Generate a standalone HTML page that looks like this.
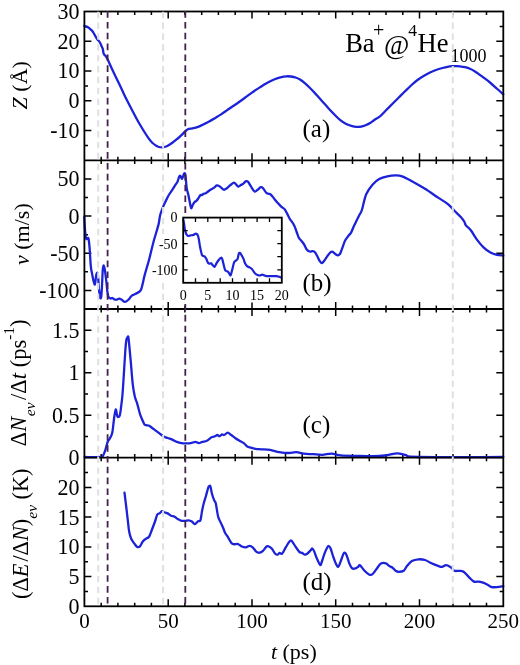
<!DOCTYPE html><html><head><meta charset="utf-8"><title>Ba+@4He1000 dynamics</title><style>html,body{margin:0;padding:0;background:#fff;}svg{display:block;}text{font-family:'Liberation Serif', 'DejaVu Serif', serif;fill:#000;}</style></head><body>
<svg width="520" height="665" viewBox="0 0 520 665">
<rect width="520" height="665" fill="#fff"/>
<path d="M101.2,11.5L101.2,15.1M101.2,160.3L101.2,156.7M117.9,11.5L117.9,15.1M117.9,160.3L117.9,156.7M134.7,11.5L134.7,15.1M134.7,160.3L134.7,156.7M151.4,11.5L151.4,15.1M151.4,160.3L151.4,156.7M168.2,11.5L168.2,18.5M168.2,160.3L168.2,153.3M184.9,11.5L184.9,15.1M184.9,160.3L184.9,156.7M201.7,11.5L201.7,15.1M201.7,160.3L201.7,156.7M218.4,11.5L218.4,15.1M218.4,160.3L218.4,156.7M235.2,11.5L235.2,15.1M235.2,160.3L235.2,156.7M252.0,11.5L252.0,18.5M252.0,160.3L252.0,153.3M268.7,11.5L268.7,15.1M268.7,160.3L268.7,156.7M285.5,11.5L285.5,15.1M285.5,160.3L285.5,156.7M302.2,11.5L302.2,15.1M302.2,160.3L302.2,156.7M319.0,11.5L319.0,15.1M319.0,160.3L319.0,156.7M335.7,11.5L335.7,18.5M335.7,160.3L335.7,153.3M352.5,11.5L352.5,15.1M352.5,160.3L352.5,156.7M369.3,11.5L369.3,15.1M369.3,160.3L369.3,156.7M386.0,11.5L386.0,15.1M386.0,160.3L386.0,156.7M402.8,11.5L402.8,15.1M402.8,160.3L402.8,156.7M419.5,11.5L419.5,18.5M419.5,160.3L419.5,153.3M436.3,11.5L436.3,15.1M436.3,160.3L436.3,156.7M453.0,11.5L453.0,15.1M453.0,160.3L453.0,156.7M469.8,11.5L469.8,15.1M469.8,160.3L469.8,156.7M486.5,11.5L486.5,15.1M486.5,160.3L486.5,156.7M84.4,145.4L88.0,145.4M503.3,145.4L499.7,145.4M84.4,130.5L91.4,130.5M503.3,130.5L496.3,130.5M84.4,115.7L88.0,115.7M503.3,115.7L499.7,115.7M84.4,100.8L91.4,100.8M503.3,100.8L496.3,100.8M84.4,85.9L88.0,85.9M503.3,85.9L499.7,85.9M84.4,71.0L91.4,71.0M503.3,71.0L496.3,71.0M84.4,56.1L88.0,56.1M503.3,56.1L499.7,56.1M84.4,41.3L91.4,41.3M503.3,41.3L496.3,41.3M84.4,26.4L88.0,26.4M503.3,26.4L499.7,26.4M101.2,160.3L101.2,163.9M101.2,309.0L101.2,305.4M117.9,160.3L117.9,163.9M117.9,309.0L117.9,305.4M134.7,160.3L134.7,163.9M134.7,309.0L134.7,305.4M151.4,160.3L151.4,163.9M151.4,309.0L151.4,305.4M168.2,160.3L168.2,167.3M168.2,309.0L168.2,302.0M184.9,160.3L184.9,163.9M184.9,309.0L184.9,305.4M201.7,160.3L201.7,163.9M201.7,309.0L201.7,305.4M218.4,160.3L218.4,163.9M218.4,309.0L218.4,305.4M235.2,160.3L235.2,163.9M235.2,309.0L235.2,305.4M252.0,160.3L252.0,167.3M252.0,309.0L252.0,302.0M268.7,160.3L268.7,163.9M268.7,309.0L268.7,305.4M285.5,160.3L285.5,163.9M285.5,309.0L285.5,305.4M302.2,160.3L302.2,163.9M302.2,309.0L302.2,305.4M319.0,160.3L319.0,163.9M319.0,309.0L319.0,305.4M335.7,160.3L335.7,167.3M335.7,309.0L335.7,302.0M352.5,160.3L352.5,163.9M352.5,309.0L352.5,305.4M369.3,160.3L369.3,163.9M369.3,309.0L369.3,305.4M386.0,160.3L386.0,163.9M386.0,309.0L386.0,305.4M402.8,160.3L402.8,163.9M402.8,309.0L402.8,305.4M419.5,160.3L419.5,167.3M419.5,309.0L419.5,302.0M436.3,160.3L436.3,163.9M436.3,309.0L436.3,305.4M453.0,160.3L453.0,163.9M453.0,309.0L453.0,305.4M469.8,160.3L469.8,163.9M469.8,309.0L469.8,305.4M486.5,160.3L486.5,163.9M486.5,309.0L486.5,305.4M84.4,290.4L91.4,290.4M503.3,290.4L496.3,290.4M84.4,271.8L88.0,271.8M503.3,271.8L499.7,271.8M84.4,253.2L91.4,253.2M503.3,253.2L496.3,253.2M84.4,234.7L88.0,234.7M503.3,234.7L499.7,234.7M84.4,216.1L91.4,216.1M503.3,216.1L496.3,216.1M84.4,197.5L88.0,197.5M503.3,197.5L499.7,197.5M84.4,178.9L91.4,178.9M503.3,178.9L496.3,178.9M101.2,309.0L101.2,312.6M101.2,457.7L101.2,454.1M117.9,309.0L117.9,312.6M117.9,457.7L117.9,454.1M134.7,309.0L134.7,312.6M134.7,457.7L134.7,454.1M151.4,309.0L151.4,312.6M151.4,457.7L151.4,454.1M168.2,309.0L168.2,316.0M168.2,457.7L168.2,450.7M184.9,309.0L184.9,312.6M184.9,457.7L184.9,454.1M201.7,309.0L201.7,312.6M201.7,457.7L201.7,454.1M218.4,309.0L218.4,312.6M218.4,457.7L218.4,454.1M235.2,309.0L235.2,312.6M235.2,457.7L235.2,454.1M252.0,309.0L252.0,316.0M252.0,457.7L252.0,450.7M268.7,309.0L268.7,312.6M268.7,457.7L268.7,454.1M285.5,309.0L285.5,312.6M285.5,457.7L285.5,454.1M302.2,309.0L302.2,312.6M302.2,457.7L302.2,454.1M319.0,309.0L319.0,312.6M319.0,457.7L319.0,454.1M335.7,309.0L335.7,316.0M335.7,457.7L335.7,450.7M352.5,309.0L352.5,312.6M352.5,457.7L352.5,454.1M369.3,309.0L369.3,312.6M369.3,457.7L369.3,454.1M386.0,309.0L386.0,312.6M386.0,457.7L386.0,454.1M402.8,309.0L402.8,312.6M402.8,457.7L402.8,454.1M419.5,309.0L419.5,316.0M419.5,457.7L419.5,450.7M436.3,309.0L436.3,312.6M436.3,457.7L436.3,454.1M453.0,309.0L453.0,312.6M453.0,457.7L453.0,454.1M469.8,309.0L469.8,312.6M469.8,457.7L469.8,454.1M486.5,309.0L486.5,312.6M486.5,457.7L486.5,454.1M84.4,436.5L88.0,436.5M503.3,436.5L499.7,436.5M84.4,415.2L91.4,415.2M503.3,415.2L496.3,415.2M84.4,394.0L88.0,394.0M503.3,394.0L499.7,394.0M84.4,372.7L91.4,372.7M503.3,372.7L496.3,372.7M84.4,351.5L88.0,351.5M503.3,351.5L499.7,351.5M84.4,330.2L91.4,330.2M503.3,330.2L496.3,330.2M101.2,457.7L101.2,461.3M101.2,606.3L101.2,602.7M117.9,457.7L117.9,461.3M117.9,606.3L117.9,602.7M134.7,457.7L134.7,461.3M134.7,606.3L134.7,602.7M151.4,457.7L151.4,461.3M151.4,606.3L151.4,602.7M168.2,457.7L168.2,464.7M168.2,606.3L168.2,599.3M184.9,457.7L184.9,461.3M184.9,606.3L184.9,602.7M201.7,457.7L201.7,461.3M201.7,606.3L201.7,602.7M218.4,457.7L218.4,461.3M218.4,606.3L218.4,602.7M235.2,457.7L235.2,461.3M235.2,606.3L235.2,602.7M252.0,457.7L252.0,464.7M252.0,606.3L252.0,599.3M268.7,457.7L268.7,461.3M268.7,606.3L268.7,602.7M285.5,457.7L285.5,461.3M285.5,606.3L285.5,602.7M302.2,457.7L302.2,461.3M302.2,606.3L302.2,602.7M319.0,457.7L319.0,461.3M319.0,606.3L319.0,602.7M335.7,457.7L335.7,464.7M335.7,606.3L335.7,599.3M352.5,457.7L352.5,461.3M352.5,606.3L352.5,602.7M369.3,457.7L369.3,461.3M369.3,606.3L369.3,602.7M386.0,457.7L386.0,461.3M386.0,606.3L386.0,602.7M402.8,457.7L402.8,461.3M402.8,606.3L402.8,602.7M419.5,457.7L419.5,464.7M419.5,606.3L419.5,599.3M436.3,457.7L436.3,461.3M436.3,606.3L436.3,602.7M453.0,457.7L453.0,461.3M453.0,606.3L453.0,602.7M469.8,457.7L469.8,461.3M469.8,606.3L469.8,602.7M486.5,457.7L486.5,461.3M486.5,606.3L486.5,602.7M84.4,591.4L88.0,591.4M503.3,591.4L499.7,591.4M84.4,576.6L91.4,576.6M503.3,576.6L496.3,576.6M84.4,561.7L88.0,561.7M503.3,561.7L499.7,561.7M84.4,546.9L91.4,546.9M503.3,546.9L496.3,546.9M84.4,532.0L88.0,532.0M503.3,532.0L499.7,532.0M84.4,517.1L91.4,517.1M503.3,517.1L496.3,517.1M84.4,502.3L88.0,502.3M503.3,502.3L499.7,502.3M84.4,487.4L91.4,487.4M503.3,487.4L496.3,487.4M84.4,472.6L88.0,472.6M503.3,472.6L499.7,472.6" stroke="#000" stroke-width="1.5" fill="none"/>
<path d="M84.40,26.00 C84.67,26.10 85.40,26.38 86.00,26.60 C86.60,26.82 87.33,26.93 88.00,27.30 C88.67,27.67 89.35,28.25 90.00,28.80 C90.65,29.35 91.30,29.90 91.90,30.60 C92.50,31.30 93.05,32.12 93.60,33.00 C94.15,33.88 94.60,34.87 95.20,35.90 C95.80,36.93 96.63,38.42 97.20,39.20 C97.77,39.98 98.13,40.00 98.60,40.60 C99.07,41.20 99.57,42.03 100.00,42.80 C100.43,43.57 100.77,44.27 101.20,45.20 C101.63,46.13 102.28,47.52 102.60,48.40 C102.92,49.28 102.95,49.70 103.10,50.50 C103.25,51.30 103.27,52.45 103.50,53.20 C103.73,53.95 104.08,54.47 104.50,55.00 C104.92,55.53 105.47,55.63 106.00,56.40 C106.53,57.17 106.70,57.50 107.70,59.60 C108.70,61.70 110.47,65.73 112.00,69.00 C113.53,72.27 115.32,75.90 116.90,79.20 C118.48,82.50 119.95,85.53 121.50,88.80 C123.05,92.07 124.45,95.27 126.20,98.80 C127.95,102.33 130.08,106.33 132.00,110.00 C133.92,113.67 135.78,117.38 137.70,120.80 C139.62,124.22 141.58,127.43 143.50,130.50 C145.42,133.57 147.70,137.12 149.20,139.20 C150.70,141.28 151.33,141.92 152.50,143.00 C153.67,144.08 155.12,145.03 156.20,145.70 C157.28,146.37 158.05,146.73 159.00,147.00 C159.95,147.27 160.98,147.30 161.90,147.30 C162.82,147.30 163.53,147.27 164.50,147.00 C165.47,146.73 166.45,146.37 167.70,145.70 C168.95,145.03 170.47,144.08 172.00,143.00 C173.53,141.92 175.63,140.22 176.90,139.20 C178.17,138.18 178.67,137.75 179.60,136.90 C180.53,136.05 181.63,134.97 182.50,134.10 C183.37,133.23 184.13,132.35 184.80,131.70 C185.47,131.05 185.83,130.68 186.50,130.20 C187.17,129.72 187.83,129.12 188.80,128.80 C189.77,128.48 190.75,128.63 192.30,128.30 C193.85,127.97 196.18,127.48 198.10,126.80 C200.02,126.12 201.88,125.12 203.80,124.20 C205.72,123.28 207.67,122.35 209.60,121.30 C211.53,120.25 213.48,119.05 215.40,117.90 C217.32,116.75 219.18,115.65 221.10,114.40 C223.02,113.15 224.97,111.75 226.90,110.40 C228.83,109.05 230.85,107.58 232.70,106.30 C234.55,105.02 235.97,104.12 238.00,102.70 C240.03,101.28 242.57,99.48 244.90,97.80 C247.23,96.12 249.52,94.33 252.00,92.60 C254.48,90.87 257.30,89.00 259.80,87.40 C262.30,85.80 264.52,84.35 267.00,83.00 C269.48,81.65 272.45,80.25 274.70,79.30 C276.95,78.35 278.52,77.80 280.50,77.30 C282.48,76.80 284.85,76.43 286.60,76.30 C288.35,76.17 289.50,76.30 291.00,76.50 C292.50,76.70 294.10,76.98 295.60,77.50 C297.10,78.02 298.52,78.70 300.00,79.60 C301.48,80.50 302.75,81.42 304.50,82.90 C306.25,84.38 308.52,86.52 310.50,88.50 C312.48,90.48 314.42,92.63 316.40,94.80 C318.38,96.97 320.40,99.27 322.40,101.50 C324.40,103.73 326.40,106.03 328.40,108.20 C330.40,110.37 332.42,112.52 334.40,114.50 C336.38,116.48 338.33,118.52 340.30,120.10 C342.27,121.68 344.22,123.00 346.20,124.00 C348.18,125.00 350.47,125.63 352.20,126.10 C353.93,126.57 355.12,126.70 356.60,126.80 C358.08,126.90 359.60,126.95 361.10,126.70 C362.60,126.45 364.10,125.90 365.60,125.30 C367.10,124.70 368.60,124.03 370.10,123.10 C371.60,122.17 372.95,120.83 374.60,119.70 C376.25,118.57 378.10,117.87 380.00,116.30 C381.90,114.73 383.92,112.38 386.00,110.30 C388.08,108.22 390.37,105.93 392.50,103.80 C394.63,101.67 396.72,99.58 398.80,97.50 C400.88,95.42 402.97,93.30 405.00,91.30 C407.03,89.30 408.92,87.38 411.00,85.50 C413.08,83.62 415.33,81.62 417.50,80.00 C419.67,78.38 421.92,77.05 424.00,75.80 C426.08,74.55 428.00,73.47 430.00,72.50 C432.00,71.53 433.92,70.75 436.00,70.00 C438.08,69.25 440.58,68.53 442.50,68.00 C444.42,67.47 445.83,67.10 447.50,66.80 C449.17,66.50 451.08,66.32 452.50,66.20 C453.92,66.08 454.75,66.08 456.00,66.10 C457.25,66.12 458.50,66.12 460.00,66.30 C461.50,66.48 463.33,66.78 465.00,67.20 C466.67,67.62 468.33,68.08 470.00,68.80 C471.67,69.52 473.33,70.47 475.00,71.50 C476.67,72.53 478.33,73.82 480.00,75.00 C481.67,76.18 483.33,77.35 485.00,78.60 C486.67,79.85 488.17,80.97 490.00,82.50 C491.83,84.03 493.78,85.83 496.00,87.80 C498.22,89.77 502.08,93.22 503.30,94.30" fill="none" stroke="#1c22d8" stroke-width="2.3" stroke-linejoin="round" stroke-linecap="round"/>
<path d="M84.30,216.60 C84.38,218.17 84.63,223.25 84.80,226.00 C84.97,228.75 85.05,230.95 85.30,233.10 C85.55,235.25 85.93,238.07 86.30,238.90 C86.67,239.73 87.12,238.10 87.50,238.10 C87.88,238.10 88.25,237.25 88.60,238.90 C88.95,240.55 89.23,243.45 89.60,248.00 C89.97,252.55 90.42,262.07 90.80,266.20 C91.18,270.33 91.50,270.58 91.90,272.80 C92.30,275.02 92.75,277.57 93.20,279.50 C93.65,281.43 94.27,283.85 94.60,284.40 C94.93,284.95 94.93,284.32 95.20,282.80 C95.47,281.28 95.83,276.97 96.20,275.30 C96.57,273.63 97.07,272.38 97.40,272.80 C97.73,273.22 97.93,275.03 98.20,277.80 C98.47,280.57 98.67,286.08 99.00,289.40 C99.33,292.72 99.83,296.45 100.20,297.70 C100.57,298.95 100.92,298.57 101.20,296.90 C101.48,295.23 101.63,292.27 101.90,287.70 C102.17,283.13 102.50,273.22 102.80,269.50 C103.10,265.78 103.37,265.40 103.70,265.40 C104.03,265.40 104.47,267.70 104.80,269.50 C105.13,271.30 105.42,273.98 105.70,276.20 C105.98,278.42 106.23,280.32 106.50,282.80 C106.77,285.28 106.97,288.75 107.30,291.10 C107.63,293.45 107.95,295.67 108.50,296.90 C109.05,298.13 109.97,298.32 110.60,298.50 C111.23,298.68 111.65,297.83 112.30,298.00 C112.95,298.17 113.73,299.23 114.50,299.50 C115.27,299.77 116.15,299.75 116.90,299.60 C117.65,299.45 118.23,298.60 119.00,298.60 C119.77,298.60 120.50,299.05 121.50,299.60 C122.50,300.15 123.83,301.90 125.00,301.90 C126.17,301.90 127.50,300.50 128.50,299.60 C129.50,298.70 130.23,297.27 131.00,296.50 C131.77,295.73 131.98,295.63 133.10,295.00 C134.22,294.37 136.35,293.67 137.70,292.70 C139.05,291.73 140.05,292.08 141.20,289.20 C142.35,286.32 143.27,280.40 144.60,275.40 C145.93,270.40 147.67,264.97 149.20,259.20 C150.73,253.43 152.25,246.57 153.80,240.80 C155.35,235.03 157.43,228.90 158.50,224.60 C159.57,220.30 159.33,218.20 160.20,215.00 C161.07,211.80 162.65,207.97 163.70,205.40 C164.75,202.83 165.65,201.33 166.50,199.60 C167.35,197.87 167.83,196.63 168.80,195.00 C169.77,193.37 171.23,191.43 172.30,189.80 C173.37,188.17 174.33,186.55 175.20,185.20 C176.07,183.85 176.83,183.15 177.50,181.70 C178.17,180.25 178.72,177.45 179.20,176.50 C179.68,175.55 179.92,175.62 180.40,176.00 C180.88,176.38 181.53,179.10 182.10,178.80 C182.67,178.50 183.35,175.12 183.80,174.20 C184.25,173.28 184.50,172.92 184.80,173.30 C185.10,173.68 185.28,174.03 185.60,176.50 C185.92,178.97 186.23,185.02 186.70,188.10 C187.17,191.18 187.82,192.32 188.40,195.00 C188.98,197.68 189.72,201.98 190.20,204.20 C190.68,206.42 190.82,208.30 191.30,208.30 C191.78,208.30 192.52,205.27 193.10,204.20 C193.68,203.13 194.23,202.47 194.80,201.90 C195.37,201.33 195.92,201.38 196.50,200.80 C197.08,200.22 197.62,199.37 198.30,198.40 C198.98,197.43 199.93,195.57 200.60,195.00 C201.27,194.43 201.83,195.20 202.30,195.00 C202.77,194.80 202.82,194.08 203.40,193.80 C203.98,193.52 205.02,193.68 205.80,193.30 C206.58,192.92 207.33,192.08 208.10,191.50 C208.87,190.92 209.63,190.28 210.40,189.80 C211.17,189.32 211.93,189.08 212.70,188.60 C213.47,188.12 214.30,187.43 215.00,186.90 C215.70,186.37 216.07,185.45 216.90,185.40 C217.73,185.35 218.85,185.88 220.00,186.60 C221.15,187.32 222.65,189.43 223.80,189.70 C224.95,189.97 225.87,188.92 226.90,188.20 C227.93,187.48 228.85,186.33 230.00,185.40 C231.15,184.47 232.77,182.73 233.80,182.60 C234.83,182.47 235.42,183.93 236.20,184.60 C236.98,185.27 237.73,186.52 238.50,186.60 C239.27,186.68 240.03,185.57 240.80,185.10 C241.57,184.63 242.20,184.47 243.10,183.80 C244.00,183.13 245.35,181.40 246.20,181.10 C247.05,180.80 247.43,181.15 248.20,182.00 C248.97,182.85 249.73,184.62 250.80,186.20 C251.87,187.78 253.45,190.92 254.60,191.50 C255.75,192.08 256.67,190.42 257.70,189.70 C258.73,188.98 259.90,187.45 260.80,187.20 C261.70,186.95 262.20,187.27 263.10,188.20 C264.00,189.13 265.30,191.87 266.20,192.80 C267.10,193.73 267.73,193.50 268.50,193.80 C269.27,194.10 269.78,193.70 270.80,194.60 C271.82,195.50 273.32,197.67 274.60,199.20 C275.88,200.73 277.35,202.52 278.50,203.80 C279.65,205.08 280.48,206.00 281.50,206.90 C282.52,207.80 283.70,208.17 284.60,209.20 C285.50,210.23 286.00,211.43 286.90,213.10 C287.80,214.77 289.28,217.92 290.00,219.20 C290.72,220.48 290.50,219.77 291.20,220.80 C291.90,221.83 293.32,223.62 294.20,225.40 C295.08,227.18 295.73,229.45 296.50,231.50 C297.27,233.55 297.90,236.03 298.80,237.70 C299.70,239.37 301.00,240.35 301.90,241.50 C302.80,242.65 303.43,243.32 304.20,244.60 C304.97,245.88 305.60,248.05 306.50,249.20 C307.40,250.35 308.57,251.17 309.60,251.50 C310.63,251.83 311.80,251.07 312.70,251.20 C313.60,251.33 314.23,251.47 315.00,252.30 C315.77,253.13 316.53,254.78 317.30,256.20 C318.07,257.62 318.83,259.65 319.60,260.80 C320.37,261.95 321.13,263.10 321.90,263.10 C322.67,263.10 323.30,261.95 324.20,260.80 C325.10,259.65 326.27,257.62 327.30,256.20 C328.33,254.78 329.50,253.03 330.40,252.30 C331.30,251.57 331.93,251.55 332.70,251.80 C333.47,252.05 334.10,253.20 335.00,253.80 C335.90,254.40 337.20,255.52 338.10,255.40 C339.00,255.28 339.63,254.52 340.40,253.10 C341.17,251.68 341.93,248.95 342.70,246.90 C343.47,244.85 344.10,242.58 345.00,240.80 C345.90,239.02 347.07,237.62 348.10,236.20 C349.13,234.78 350.30,233.85 351.20,232.30 C352.10,230.75 352.62,228.82 353.50,226.90 C354.38,224.98 355.48,222.85 356.50,220.80 C357.52,218.75 358.70,216.40 359.60,214.60 C360.50,212.80 360.80,213.38 361.90,210.00 C363.00,206.62 364.40,198.55 366.20,194.30 C368.00,190.05 370.53,187.05 372.70,184.50 C374.87,181.95 376.75,180.37 379.20,179.00 C381.65,177.63 384.67,176.90 387.40,176.30 C390.13,175.70 393.15,175.40 395.60,175.40 C398.05,175.40 399.38,175.33 402.10,176.30 C404.82,177.27 408.08,179.12 411.90,181.20 C415.72,183.28 420.63,186.07 425.00,188.80 C429.37,191.53 434.28,195.05 438.10,197.60 C441.92,200.15 445.18,201.92 447.90,204.10 C450.62,206.28 452.22,208.52 454.40,210.70 C456.58,212.88 459.37,215.40 461.00,217.20 C462.63,219.00 463.38,220.13 464.20,221.50 C465.02,222.87 464.80,223.93 465.90,225.40 C467.00,226.87 468.90,227.85 470.80,230.30 C472.70,232.75 475.13,237.22 477.30,240.10 C479.47,242.98 481.62,245.53 483.80,247.60 C485.98,249.67 488.22,251.30 490.40,252.50 C492.58,253.70 494.75,254.30 496.90,254.80 C499.05,255.30 502.23,255.38 503.30,255.50" fill="none" stroke="#1c22d8" stroke-width="2.3" stroke-linejoin="round" stroke-linecap="round"/>
<path d="M84.60,457.00 C87.30,457.00 97.72,457.25 100.80,457.00 C103.88,456.75 102.33,456.70 103.10,455.50 C103.87,454.30 104.63,452.10 105.40,449.80 C106.17,447.50 106.93,443.63 107.70,441.70 C108.47,439.77 109.23,439.73 110.00,438.20 C110.77,436.67 111.60,435.95 112.30,432.50 C113.00,429.05 113.62,421.35 114.20,417.50 C114.78,413.65 115.27,409.60 115.80,409.40 C116.33,409.20 116.75,415.27 117.40,416.30 C118.05,417.33 119.07,417.32 119.70,415.60 C120.33,413.88 120.73,409.52 121.20,406.00 C121.67,402.48 122.07,399.68 122.50,394.50 C122.93,389.32 123.32,382.40 123.80,374.90 C124.28,367.40 124.97,355.35 125.40,349.50 C125.83,343.65 126.07,341.78 126.40,339.80 C126.73,337.82 127.08,338.10 127.40,337.60 C127.72,337.10 127.98,335.47 128.30,336.80 C128.62,338.13 128.87,341.20 129.30,345.60 C129.73,350.00 130.32,356.68 130.90,363.20 C131.48,369.72 132.15,379.17 132.80,384.70 C133.45,390.23 134.07,393.25 134.80,396.40 C135.53,399.55 136.33,400.67 137.20,403.60 C138.07,406.53 139.28,411.60 140.00,414.00 C140.72,416.40 140.92,416.58 141.50,418.00 C142.08,419.42 142.98,421.40 143.50,422.50 C144.02,423.60 144.03,424.13 144.60,424.60 C145.17,425.07 146.13,425.10 146.90,425.30 C147.67,425.50 148.05,425.15 149.20,425.80 C150.35,426.45 152.25,428.05 153.80,429.20 C155.35,430.35 156.95,431.53 158.50,432.70 C160.05,433.87 161.57,435.32 163.10,436.20 C164.63,437.08 166.17,437.43 167.70,438.00 C169.23,438.57 170.77,438.95 172.30,439.60 C173.83,440.25 175.37,441.32 176.90,441.90 C178.43,442.48 179.95,442.87 181.50,443.10 C183.05,443.33 184.65,443.30 186.20,443.30 C187.75,443.30 189.27,443.33 190.80,443.10 C192.33,442.87 194.07,441.90 195.40,441.90 C196.73,441.90 197.65,443.10 198.80,443.10 C199.95,443.10 200.95,442.28 202.30,441.90 C203.65,441.52 205.37,441.57 206.90,440.80 C208.43,440.03 210.15,438.07 211.50,437.30 C212.85,436.53 214.03,436.58 215.00,436.20 C215.97,435.82 216.53,435.00 217.30,435.00 C218.07,435.00 218.82,436.32 219.60,436.20 C220.38,436.08 221.23,434.50 222.00,434.30 C222.77,434.10 223.25,435.27 224.20,435.00 C225.15,434.73 226.53,432.70 227.70,432.70 C228.87,432.70 229.85,434.03 231.20,435.00 C232.55,435.97 234.27,437.47 235.80,438.50 C237.33,439.53 239.07,440.43 240.40,441.20 C241.73,441.97 242.65,442.22 243.80,443.10 C244.95,443.98 246.13,445.73 247.30,446.50 C248.47,447.27 249.45,447.32 250.80,447.70 C252.15,448.08 253.73,448.53 255.40,448.80 C257.07,449.07 258.37,449.12 260.80,449.30 C263.23,449.48 266.93,449.43 270.00,449.90 C273.07,450.37 276.12,451.58 279.20,452.10 C282.28,452.62 285.67,453.00 288.50,453.00 C291.33,453.00 293.65,452.00 296.20,452.10 C298.75,452.20 300.98,453.25 303.80,453.60 C306.62,453.95 310.02,454.00 313.10,454.20 C316.18,454.40 319.23,454.90 322.30,454.80 C325.37,454.70 328.42,453.50 331.50,453.60 C334.58,453.70 336.72,455.02 340.80,455.40 C344.88,455.78 350.68,455.77 356.00,455.90 C361.32,456.03 367.87,456.27 372.70,456.20 C377.53,456.13 380.92,455.98 385.00,455.50 C389.08,455.02 393.80,453.40 397.20,453.30 C400.60,453.20 401.85,454.28 405.40,454.90 C408.95,455.52 402.18,456.65 418.50,457.00 C434.82,457.35 489.17,457.00 503.30,457.00" fill="none" stroke="#1c22d8" stroke-width="2.3" stroke-linejoin="round" stroke-linecap="round"/>
<path d="M124.50,492.60 C124.78,494.92 125.65,501.88 126.20,506.50 C126.75,511.12 127.30,516.08 127.80,520.30 C128.30,524.52 128.63,528.72 129.20,531.80 C129.77,534.88 130.37,536.87 131.20,538.80 C132.03,540.73 133.20,542.05 134.20,543.40 C135.20,544.75 136.23,546.40 137.20,546.90 C138.17,547.40 139.07,547.30 140.00,546.40 C140.93,545.50 141.83,542.77 142.80,541.50 C143.77,540.23 144.73,539.63 145.80,538.80 C146.87,537.97 148.17,538.05 149.20,536.50 C150.23,534.95 151.03,532.00 152.00,529.50 C152.97,527.00 154.12,524.00 155.00,521.50 C155.88,519.00 156.53,515.85 157.30,514.50 C158.07,513.15 158.83,513.97 159.60,513.40 C160.37,512.83 161.13,511.30 161.90,511.10 C162.67,510.90 163.23,511.82 164.20,512.20 C165.17,512.58 166.53,512.82 167.70,513.40 C168.87,513.98 170.05,515.13 171.20,515.70 C172.35,516.27 173.45,516.22 174.60,516.80 C175.75,517.38 176.95,518.53 178.10,519.20 C179.25,519.87 180.35,520.53 181.50,520.80 C182.65,521.07 183.83,520.88 185.00,520.80 C186.17,520.72 187.35,520.18 188.50,520.30 C189.65,520.42 190.87,520.85 191.90,521.50 C192.93,522.15 193.93,523.98 194.70,524.20 C195.47,524.42 195.93,523.30 196.50,522.80 C197.07,522.30 197.45,521.60 198.10,521.20 C198.75,520.80 199.77,521.95 200.40,520.40 C201.03,518.85 201.38,514.60 201.90,511.90 C202.42,509.20 202.85,506.77 203.50,504.20 C204.15,501.63 205.03,499.18 205.80,496.50 C206.57,493.82 207.53,489.82 208.10,488.10 C208.67,486.38 208.82,486.50 209.20,486.20 C209.58,485.90 209.95,485.08 210.40,486.30 C210.85,487.52 211.27,491.15 211.90,493.50 C212.53,495.85 213.55,498.73 214.20,500.40 C214.85,502.07 215.15,500.82 215.80,503.50 C216.45,506.18 217.33,513.43 218.10,516.50 C218.87,519.57 219.50,519.85 220.40,521.90 C221.30,523.95 222.73,527.00 223.50,528.80 C224.27,530.60 224.23,531.28 225.00,532.70 C225.77,534.12 227.07,535.63 228.10,537.30 C229.13,538.97 230.30,541.55 231.20,542.70 C232.10,543.85 232.48,544.00 233.50,544.20 C234.52,544.40 236.28,543.77 237.30,543.90 C238.32,544.03 238.83,544.57 239.60,545.00 C240.37,545.43 240.87,546.12 241.90,546.50 C242.93,546.88 244.52,547.42 245.80,547.30 C247.08,547.18 248.45,545.80 249.60,545.80 C250.75,545.80 251.55,546.28 252.70,547.30 C253.85,548.32 255.35,551.00 256.50,551.90 C257.65,552.80 258.57,552.82 259.60,552.70 C260.63,552.58 261.55,552.23 262.70,551.20 C263.85,550.17 265.48,547.28 266.50,546.50 C267.52,545.72 267.90,546.12 268.80,546.50 C269.70,546.88 270.83,547.60 271.90,548.80 C272.97,550.00 274.22,552.73 275.20,553.70 C276.18,554.67 277.08,554.73 277.80,554.60 C278.52,554.47 278.78,553.05 279.50,552.90 C280.22,552.75 281.08,554.57 282.10,553.70 C283.12,552.83 284.58,549.42 285.60,547.70 C286.62,545.98 287.33,544.62 288.20,543.40 C289.07,542.18 289.93,540.40 290.80,540.40 C291.67,540.40 292.40,542.05 293.40,543.40 C294.40,544.75 295.80,547.07 296.80,548.50 C297.80,549.93 298.53,551.27 299.40,552.00 C300.27,552.73 301.13,552.47 302.00,552.90 C302.87,553.33 303.73,554.47 304.60,554.60 C305.47,554.73 306.18,554.42 307.20,553.70 C308.22,552.98 309.83,551.17 310.70,550.30 C311.57,549.43 311.83,548.37 312.40,548.50 C312.97,548.63 313.38,549.50 314.10,551.10 C314.82,552.70 315.68,555.78 316.70,558.10 C317.72,560.42 319.33,564.43 320.20,565.00 C321.07,565.57 321.18,563.38 321.90,561.50 C322.62,559.62 323.63,556.00 324.50,553.70 C325.37,551.40 326.38,548.98 327.10,547.70 C327.82,546.42 328.22,545.87 328.80,546.00 C329.38,546.13 329.88,546.78 330.60,548.50 C331.32,550.22 332.25,553.83 333.10,556.30 C333.95,558.77 334.83,561.57 335.70,563.30 C336.57,565.03 337.43,567.13 338.30,566.70 C339.17,566.27 340.03,562.87 340.90,560.70 C341.77,558.53 342.77,555.00 343.50,553.70 C344.23,552.40 344.72,552.47 345.30,552.90 C345.88,553.33 346.28,554.43 347.00,556.30 C347.72,558.17 348.73,562.08 349.60,564.10 C350.47,566.12 351.20,567.68 352.20,568.40 C353.20,569.12 354.60,568.68 355.60,568.40 C356.60,568.12 357.47,567.22 358.20,566.70 C358.93,566.18 358.95,564.62 360.00,565.30 C361.05,565.98 362.93,569.23 364.50,570.80 C366.07,572.37 368.03,574.17 369.40,574.70 C370.77,575.23 371.33,575.20 372.70,574.00 C374.07,572.80 376.23,569.23 377.60,567.50 C378.97,565.77 379.53,564.30 380.90,563.60 C382.27,562.90 384.45,562.92 385.80,563.30 C387.15,563.68 387.92,565.20 389.00,565.90 C390.08,566.60 391.20,566.68 392.30,567.50 C393.40,568.32 394.52,570.08 395.60,570.80 C396.68,571.52 397.45,571.80 398.80,571.80 C400.15,571.80 402.33,571.78 403.70,570.80 C405.07,569.82 405.63,567.53 407.00,565.90 C408.37,564.27 409.98,562.10 411.90,561.00 C413.82,559.90 416.32,559.47 418.50,559.30 C420.68,559.13 422.83,559.33 425.00,560.00 C427.17,560.67 429.32,562.32 431.50,563.30 C433.68,564.28 436.35,565.30 438.10,565.90 C439.85,566.50 440.65,567.02 442.00,566.90 C443.35,566.78 444.68,565.10 446.20,565.20 C447.72,565.30 449.73,566.57 451.10,567.50 C452.47,568.43 453.03,570.25 454.40,570.80 C455.77,571.35 457.77,570.63 459.30,570.80 C460.83,570.97 461.97,570.72 463.60,571.80 C465.23,572.88 467.37,575.67 469.10,577.30 C470.83,578.93 472.37,580.88 474.00,581.60 C475.63,582.32 477.27,581.38 478.90,581.60 C480.53,581.82 482.17,582.25 483.80,582.90 C485.43,583.55 487.33,584.80 488.70,585.50 C490.07,586.20 490.63,586.83 492.00,587.10 C493.37,587.37 495.02,587.27 496.90,587.10 C498.78,586.93 502.23,586.27 503.30,586.10" fill="none" stroke="#1c22d8" stroke-width="2.3" stroke-linejoin="round" stroke-linecap="round"/>
<rect x="84.4" y="11.5" width="418.9" height="594.8" fill="none" stroke="#000" stroke-width="1.8"/>
<line x1="84.4" y1="160.3" x2="503.3" y2="160.3" stroke="#000" stroke-width="1.8"/>
<line x1="84.4" y1="309.0" x2="503.3" y2="309.0" stroke="#000" stroke-width="1.8"/>
<line x1="84.4" y1="457.7" x2="503.3" y2="457.7" stroke="#000" stroke-width="1.8"/>
<line x1="98.2" y1="11.75" x2="98.2" y2="606.3" stroke="#e0e0e0" stroke-width="2" stroke-dasharray="6.4 4.45"/>
<line x1="163.1" y1="11.75" x2="163.1" y2="606.3" stroke="#e0e0e0" stroke-width="2" stroke-dasharray="6.4 4.45"/>
<line x1="452.8" y1="11.75" x2="452.8" y2="606.3" stroke="#e0e0e0" stroke-width="2" stroke-dasharray="6.4 4.45"/>
<line x1="107.6" y1="11.05" x2="107.6" y2="606.3" stroke="#44204e" stroke-width="1.8" stroke-dasharray="6.6 4.25"/>
<line x1="185.3" y1="11.05" x2="185.3" y2="606.3" stroke="#44204e" stroke-width="1.8" stroke-dasharray="6.6 4.25"/>
<path d="M157,234 L170,234 L170,213.5 L284,213.5 L284,302.4 L170,302.4 L170,281 L157,281 Z" fill="#fff"/>
<path d="M183.30,219.60 C183.43,220.28 183.83,222.03 184.10,223.70 C184.37,225.37 184.52,227.83 184.90,229.60 C185.28,231.37 185.85,233.23 186.40,234.30 C186.95,235.37 187.52,235.82 188.20,236.00 C188.88,236.18 189.62,235.58 190.50,235.40 C191.38,235.22 192.62,235.18 193.50,234.90 C194.38,234.62 195.12,233.70 195.80,233.70 C196.48,233.70 197.10,234.02 197.60,234.90 C198.10,235.78 198.42,237.15 198.80,239.00 C199.18,240.85 199.52,243.87 199.90,246.00 C200.28,248.13 200.70,250.20 201.10,251.80 C201.50,253.40 201.72,254.85 202.30,255.60 C202.88,256.35 203.92,255.75 204.60,256.30 C205.28,256.85 205.82,257.78 206.40,258.90 C206.98,260.02 207.52,262.22 208.10,263.00 C208.68,263.78 209.40,263.55 209.90,263.60 C210.40,263.65 210.62,263.02 211.10,263.30 C211.58,263.58 212.22,264.72 212.80,265.30 C213.38,265.88 214.02,267.08 214.60,266.80 C215.18,266.52 215.62,264.73 216.30,263.60 C216.98,262.47 217.92,260.98 218.70,260.00 C219.48,259.02 220.42,257.88 221.00,257.70 C221.58,257.52 221.80,257.92 222.20,258.90 C222.60,259.88 222.92,261.75 223.40,263.60 C223.88,265.45 224.52,268.73 225.10,270.00 C225.68,271.27 226.32,270.80 226.90,271.20 C227.48,271.60 227.98,271.72 228.60,272.40 C229.22,273.08 229.98,275.80 230.60,275.30 C231.22,274.80 231.72,271.55 232.30,269.40 C232.88,267.25 233.50,263.87 234.10,262.40 C234.70,260.93 235.32,261.18 235.90,260.60 C236.48,260.02 237.12,260.07 237.60,258.90 C238.08,257.73 238.40,254.58 238.80,253.60 C239.20,252.62 239.52,252.70 240.00,253.00 C240.48,253.30 241.12,254.42 241.70,255.40 C242.28,256.38 242.92,257.53 243.50,258.90 C244.08,260.27 244.62,262.40 245.20,263.60 C245.78,264.80 246.32,265.48 247.00,266.10 C247.68,266.72 248.52,266.85 249.30,267.30 C250.08,267.75 251.02,268.15 251.70,268.80 C252.38,269.45 252.82,270.42 253.40,271.20 C253.98,271.98 254.52,272.87 255.20,273.50 C255.88,274.13 256.72,274.67 257.50,275.00 C258.28,275.33 259.12,275.55 259.90,275.50 C260.68,275.45 261.52,274.73 262.20,274.70 C262.88,274.67 263.32,275.07 264.00,275.30 C264.68,275.53 265.33,275.95 266.30,276.10 C267.27,276.25 268.62,276.20 269.80,276.20 C270.98,276.20 272.32,276.12 273.40,276.10 C274.48,276.08 275.33,275.98 276.30,276.10 C277.27,276.22 278.38,276.55 279.20,276.80 C280.02,277.05 280.87,277.47 281.20,277.60" fill="none" stroke="#1c22d8" stroke-width="2.2" stroke-linejoin="round" stroke-linecap="round"/>
<path d="M195.5,217.6L195.5,222.1M195.5,282.8L195.5,278.3M207.8,217.6L207.8,222.1M207.8,282.8L207.8,278.3M220.2,217.6L220.2,222.1M220.2,282.8L220.2,278.3M232.5,217.6L232.5,222.1M232.5,282.8L232.5,278.3M244.8,217.6L244.8,222.1M244.8,282.8L244.8,278.3M257.1,217.6L257.1,222.1M257.1,282.8L257.1,278.3M269.5,217.6L269.5,222.1M269.5,282.8L269.5,278.3M183.2,230.6L187.7,230.6M281.8,230.6L277.3,230.6M183.2,243.7L187.7,243.7M281.8,243.7L277.3,243.7M183.2,256.7L187.7,256.7M281.8,256.7L277.3,256.7M183.2,269.8L187.7,269.8M281.8,269.8L277.3,269.8" stroke="#000" stroke-width="1.3" fill="none"/>
<rect x="183.2" y="217.6" width="98.6" height="65.2" fill="none" stroke="#000" stroke-width="1.8"/>
<text x="177.6" y="222.4" font-size="14" text-anchor="end">0</text>
<text x="177.6" y="248.5" font-size="14" text-anchor="end">-50</text>
<text x="177.6" y="274.6" font-size="14" text-anchor="end">-100</text>
<text x="183.2" y="299.8" font-size="14" text-anchor="middle">0</text>
<text x="207.8" y="299.8" font-size="14" text-anchor="middle">5</text>
<text x="232.5" y="299.8" font-size="14" text-anchor="middle">10</text>
<text x="257.1" y="299.8" font-size="14" text-anchor="middle">15</text>
<text x="281.8" y="299.8" font-size="14" text-anchor="middle">20</text>
<text transform="translate(79.6,18.9) scale(1,1.07)" font-size="22" text-anchor="end">30</text>
<text transform="translate(79.6,48.7) scale(1,1.07)" font-size="22" text-anchor="end">20</text>
<text transform="translate(79.6,78.4) scale(1,1.07)" font-size="22" text-anchor="end">10</text>
<text transform="translate(79.6,108.2) scale(1,1.07)" font-size="22" text-anchor="end">0</text>
<text transform="translate(79.6,137.9) scale(1,1.07)" font-size="22" text-anchor="end">-10</text>
<text transform="translate(79.6,186.3) scale(1,1.07)" font-size="22" text-anchor="end">50</text>
<text transform="translate(79.6,223.5) scale(1,1.07)" font-size="22" text-anchor="end">0</text>
<text transform="translate(79.6,260.6) scale(1,1.07)" font-size="22" text-anchor="end">-50</text>
<text transform="translate(79.6,297.8) scale(1,1.07)" font-size="22" text-anchor="end">-100</text>
<text transform="translate(79.6,337.6) scale(1,1.07)" font-size="22" text-anchor="end">1.5</text>
<text transform="translate(79.6,380.1) scale(1,1.07)" font-size="22" text-anchor="end">1</text>
<text transform="translate(79.6,422.6) scale(1,1.07)" font-size="22" text-anchor="end">0.5</text>
<text transform="translate(79.6,465.1) scale(1,1.07)" font-size="22" text-anchor="end">0</text>
<text transform="translate(79.6,494.8) scale(1,1.07)" font-size="22" text-anchor="end">20</text>
<text transform="translate(79.6,524.5) scale(1,1.07)" font-size="22" text-anchor="end">15</text>
<text transform="translate(79.6,554.3) scale(1,1.07)" font-size="22" text-anchor="end">10</text>
<text transform="translate(79.6,584.0) scale(1,1.07)" font-size="22" text-anchor="end">5</text>
<text transform="translate(79.6,613.7) scale(1,1.07)" font-size="22" text-anchor="end">0</text>
<text x="84.4" y="627.7" font-size="21" text-anchor="middle">0</text>
<text x="168.2" y="627.7" font-size="21" text-anchor="middle">50</text>
<text x="252.0" y="627.7" font-size="21" text-anchor="middle">100</text>
<text x="335.7" y="627.7" font-size="21" text-anchor="middle">150</text>
<text x="419.5" y="627.7" font-size="21" text-anchor="middle">200</text>
<text x="503.3" y="627.7" font-size="21" text-anchor="middle">250</text>
<text x="293.8" y="659.4" font-size="22" text-anchor="middle"><tspan font-style="italic">t</tspan> (ps)</text>
<text x="302.5" y="137.2" font-size="25">(a)</text>
<text x="302.5" y="291.1" font-size="25">(b)</text>
<text x="302.5" y="433.2" font-size="25">(c)</text>
<text x="302.5" y="589.5" font-size="25">(d)</text>
<text transform="translate(26.6,109.4) rotate(-90)" font-size="22"><tspan font-style="italic">Z</tspan> (Å)</text>
<text transform="translate(28.6,265) rotate(-90)" font-size="22"><tspan font-style="italic">v</tspan> (m/s)</text>
<text transform="translate(25.8,446.2) rotate(-90)" font-size="22.5">Δ<tspan font-style="italic">N</tspan><tspan font-style="italic" font-size="15.5" dy="9" dx="0.5">ev</tspan><tspan dy="-9" dx="2.5">/Δ</tspan><tspan font-style="italic">t</tspan> (ps<tspan font-size="15.5" dy="-12">-1</tspan><tspan dy="12">)</tspan></text>
<text transform="translate(27.6,599) rotate(-90)" font-size="22.3">(Δ<tspan font-style="italic">E</tspan><tspan dx="2">/Δ</tspan><tspan font-style="italic">N</tspan>)<tspan font-style="italic" font-size="15.5" dy="9">ev</tspan><tspan dy="-9"> (K)</tspan></text>
<text x="345.2" y="52" font-size="26.5">Ba</text>
<text x="373.0" y="37" font-size="20">+</text>
<text x="384.0" y="53.5" font-size="27.5">@</text>
<text x="408.2" y="36" font-size="17.5">4</text>
<text x="417.6" y="52" font-size="26.5">He</text>
<text x="450.6" y="62" font-size="18">1000</text>
</svg></body></html>
